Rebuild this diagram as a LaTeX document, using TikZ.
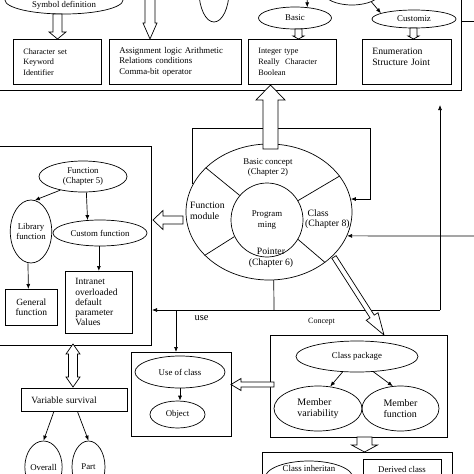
\documentclass[tikz,border=0pt]{standalone}
\usepackage{fontspec}
\setmainfont{Liberation Serif}
\usetikzlibrary{shapes.geometric,arrows.meta,calc}
\newcommand\blockarr[5]{%
  \path ($(#2)!#5!(#1)$) coordinate (ba-h);
  \draw[blk] ($(#1)!#3!90:(#2)$) -- ($(ba-h)!#3!90:(#2)$) -- ($(ba-h)!#4!90:(#2)$) -- (#2)
    -- ($(ba-h)!#4!-90:(#2)$) -- ($(ba-h)!#3!-90:(#2)$) -- ($(#1)!#3!-90:(#2)$) -- cycle;}
\newcommand\dblarr[5]{%
  \path ($(#1)!#5!(#2)$) coordinate (da-a) ($(#2)!#5!(#1)$) coordinate (da-b);
  \draw[blk] (#1) -- ($(da-a)!#4!90:(#2)$) -- ($(da-a)!#3!90:(#2)$) -- ($(da-b)!#3!90:(#2)$)
    -- ($(da-b)!#4!90:(#2)$) -- (#2) -- ($(da-b)!#4!-90:(#2)$) -- ($(da-b)!#3!-90:(#2)$)
    -- ($(da-a)!#3!-90:(#2)$) -- ($(da-a)!#4!-90:(#2)$) -- cycle;}
\tikzset{
  ln/.style={line width=0.7pt},
  arr/.style={ln,-{Latex[length=5pt,width=4pt]}},
  blk/.style={ln,fill=white,line join=miter},
  ell/.style={ellipse,draw,ln,inner sep=0pt,align=center},
  box/.style={rectangle,draw,ln,inner ysep=0pt,align=left},
  frame/.style={rectangle,draw,ln,inner sep=0pt},
  txt/.style={inner sep=0pt,align=center},
  bigf/.style={font=\fontsize{9.7}{10.6}\selectfont},
  smallf/.style={font=\fontsize{8.2}{10.6}\selectfont},
}
\begin{document}
\begin{tikzpicture}[x=1pt,y=-1pt,font=\fontsize{8.8}{10.6}\selectfont]
\useasboundingbox (0,0) rectangle (474,474);
\clip (0,0) rectangle (474,474);
% ---------- top region ----------
\node[frame,minimum width=470pt,minimum height=125pt,anchor=south east] (obox) at (462,91) {};
\node[ell,minimum width=118pt,minimum height=28pt] (sym) at (64,0) {};
\node[txt] (symt) at (64,5) {Symbol definition};
\node[ell,minimum width=30pt,minimum height=62pt] (topm) at (214,-9) {};
\node[ell,minimum width=57pt,minimum height=26pt] (topr) at (352,-8) {};
\node[ell,minimum width=73pt,minimum height=22pt] (basic) at (295,18) {Basic};
\node[ell,minimum width=84pt,minimum height=18pt] (cz) at (414,19) {Customiz};
\node[box,smallf,anchor=north west,minimum height=45pt,inner xsep=10pt,text width=68pt] (b1) at (13,39) {Character set\\Keyword\\Identifier};
\node[box,anchor=north west,minimum height=45pt,inner xsep=10pt,text width=112pt] (b2) at (109,39) {Assignment logic Arithmetic\\Relations conditions\\Comma-bit operator};
\node[box,smallf,anchor=north west,minimum height=45pt,inner xsep=10pt,text width=68pt] (b3) at (248,39) {Integer type\\Really\ \ Character\\Boolean};
\node[box,bigf,anchor=north west,minimum height=45pt,inner xsep=10pt,text width=69pt] (b4) at (362,39) {Enumeration\\Structure Joint\\\mbox{}};
\blockarr{57.5,14}{57.5,39}{4.5pt}{8.5pt}{7pt}
\blockarr{150,-5}{150,39}{5pt}{7pt}{16pt}
\blockarr{298.5,29}{298.5,39}{3.5pt}{5.5pt}{3pt}
\blockarr{413.5,28}{413.5,39}{3.5pt}{5.5pt}{3pt}
\coordinate (tb) at (307,-6);
\draw[arr] (tb) -- (basic.41);
\draw[arr] (topr.-27) -- (cz.170);
\coordinate (rexit) at (474,21);
\draw[ln] (rexit -| obox.east) -- (rexit);
% ---------- programming ----------
\node[ell,minimum width=166pt,minimum height=136pt] (prog) at (269,212) {};
\node[ell,minimum width=72pt,minimum height=74pt] (inner) at (267,220) {Program\\ming};
\draw[ln] (prog.145) -- (inner.138);
\draw[ln] (prog.27) -- (inner.32);
\draw[ln] (prog.214) -- (inner.207);
\draw[ln] (prog.318) -- (inner.328);
\node[txt] (tbc) at (268,167.5) {Basic concept\\(Chapter 2)};
\node[txt,bigf,align=left,anchor=west] (tfm) at (190,211) {Function\\module};
\node[txt,bigf,align=left,anchor=west] (tcl) at (305,219) {\ Class\\(Chapter 8)};
\node[txt,bigf] (tpt) at (271,258) {Pointer\\(Chapter 6)};
\coordinate (lc) at (370,128);
\draw[arr] (prog.160) |- (lc) |- (prog.9);
\blockarr{270.5,149}{270.5,85}{7.5pt}{14.5pt}{15pt}
\coordinate (rin) at (474,236);
\draw[arr] (rin) -- (prog.-17);
% ---------- function box ----------
\node[frame,minimum width=160pt,minimum height=199pt,anchor=north east] (fbox) at (152,146) {};
\blockarr{183,220}{153,220}{4pt}{9.5pt}{10pt}
\node[ell,minimum width=88pt,minimum height=31pt] (func) at (83,176.5) {Function\\(Chapter 5)};
\node[ell,minimum width=38pt,minimum height=63pt] (lib) at (31,231.5) {Library\\function};
\node[ell,minimum width=94pt,minimum height=26pt] (cust) at (100,233) {Custom function};
\node[box,anchor=north west,minimum height=62pt,inner xsep=10pt,text width=47pt,font=\fontsize{9.5}{10.3}\selectfont] (ibox) at (65,271) {Intranet\\overloaded\\default\\parameter\\Values};
\node[box,anchor=north west,minimum width=52pt,minimum height=36pt,align=center,inner xsep=0pt,font=\fontsize{9.5}{10.3}\selectfont] (gen) at (5,289) {General\\function};
\draw[arr] (func.211) -- (lib.83);
\draw[arr] (func.-78) -- (cust.134);
\draw[arr] (cust.south -| ibox.north) -- (ibox.north);
\draw[arr] ([xshift=-3pt]lib.south) -- ([xshift=-3pt]gen.north);
% ---------- pointer connectors ----------
\coordinate (j1) at (274,310);
\coordinate (j2) at (176,310);
\coordinate (j3) at (440,310);
\coordinate (up) at (440,105);
\draw[ln] (prog.-86) -- (j1);
\draw[arr] (j3) -- (j1 -| fbox.east);
\draw[arr] (j3) -- (up);
\node[txt,font=\fontsize{10.5}{12}\selectfont] (use) at (201.5,318) {use};
\node[txt,font=\fontsize{8}{10}\selectfont] (concept) at (321.5,322) {Concept};
% ---------- use of class ----------
\node[frame,minimum width=100pt,minimum height=84pt,anchor=north west] (ubox) at (131,352) {};
\node[ell,minimum width=90pt,minimum height=32pt] (uc) at (180,372) {Use of class};
\node[ell,minimum width=55pt,minimum height=27pt] (obj) at (177.5,414.5) {Object};
\draw[arr] (uc.south) -- (uc.south |- obj.north);
\draw[arr] (j2) -- (j2 |- ubox.north);
% ---------- class package ----------
\node[frame,minimum width=177pt,minimum height=102pt,anchor=north west] (cbox) at (270,335) {};
\node[ell,minimum width=122pt,minimum height=31pt] (cpk) at (357,356.5) {Class package};
\node[ell,minimum width=88pt,minimum height=45pt,align=left,font=\fontsize{10}{11}\selectfont] (mv) at (318,408.5) {Member\\variability\hspace{8pt}};
\node[ell,minimum width=77pt,minimum height=45pt,align=left,font=\fontsize{10}{11}\selectfont] (mf) at (400.5,408.5) {Member\\function\hspace{6pt}};
\draw[arr] (cpk.227) -- (mv.61);
\draw[arr] (cpk.-43) -- (mf.109);
\blockarr{334,257}{384,335}{2.5pt}{7pt}{22pt}
\blockarr{274,384.5}{231,384.5}{2.5pt}{6pt}{10pt}
\blockarr{364.5,437}{364.5,452}{7.5pt}{13pt}{7pt}
% ---------- bottom box ----------
\node[frame,minimum width=190pt,minimum height=40pt,anchor=north west] (bb) at (262,452) {};
\node[ell,minimum width=88pt,minimum height=34pt] (ci) at (309,478) {};
\node[txt] (cit) at (309,468) {Class inheritan};
\node[frame,minimum width=78pt,minimum height=32pt,align=center] (dc) at (402,475) {Derived class\\\mbox{}};
% ---------- variable survival ----------
\dblarr{73,344}{73,387}{4.5pt}{7pt}{10pt}
\node[box,anchor=north west,minimum height=23pt,inner xsep=10pt,text width=86pt,font=\fontsize{9.5}{10.6}\selectfont] (vs) at (21,388) {Variable survival};
\node[ell,minimum width=34pt,minimum height=52pt] (ov) at (43.5,467) {Overall};
\node[ell,minimum width=33pt,minimum height=52pt] (pt) at (88.5,467) {Part};
\draw[arr] (vs.210) -- (ov.north);
\draw[arr] (vs.-75) -- (pt.north);
\end{tikzpicture}
\end{document}
